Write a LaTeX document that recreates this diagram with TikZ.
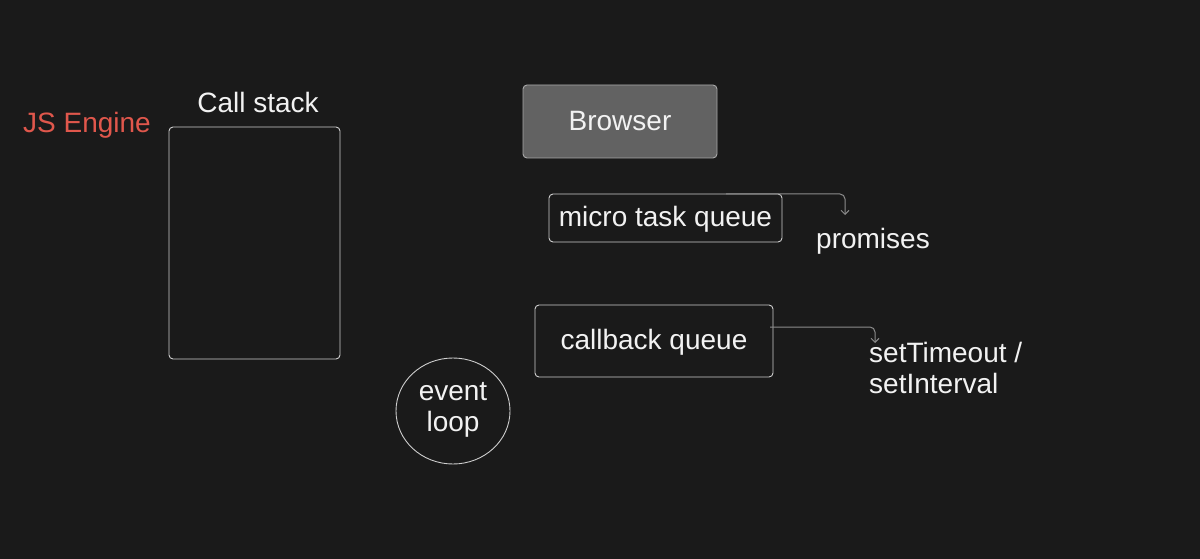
\documentclass[tikz,border=0pt]{standalone}
\usepackage{fontspec}
\setmainfont{Liberation Sans}
\usetikzlibrary{arrows.meta,shapes.geometric}
\definecolor{bg}{HTML}{1A1A1A}
\definecolor{stroke}{HTML}{CFCFCF}
\definecolor{txt}{HTML}{F2F2F2}
\definecolor{jsred}{HTML}{E0574C}
\definecolor{brfill}{HTML}{626262}
\definecolor{brstroke}{HTML}{A8A8A8}
\definecolor{arrgrey}{HTML}{8C8C8C}
\tikzset{
  box/.style={draw=stroke, line width=0.9pt, rounded corners=4pt, inner sep=0pt},
  lbl/.style={text=txt, font=\fontsize{28}{31}\selectfont, inner sep=0pt},
  conn/.style={draw=arrgrey, line width=1pt, rounded corners=5pt, -{Straight Barb[length=4pt,width=8pt]}},
}
\begin{document}
\begin{tikzpicture}[x=1pt,y=-1pt]
\fill[bg] (0,0) rectangle (1200,559);
\useasboundingbox (0,0) rectangle (1200,559);

\node[lbl, text=jsred] (js) at (87,125.5) {JS Engine};
\node[lbl] (cs) at (258,102.5) {Call stack};
\node[box, minimum width=171pt, minimum height=232pt] (stack) at (254.5,243) {};

\node[box, draw=brstroke, fill=brfill, minimum width=194pt, minimum height=73pt] (browser) at (620,121.5) {};
\node[lbl] at (browser.center) {Browser};

\node[box, minimum width=233pt, minimum height=48pt] (micro) at (665.5,218) {};
\node[lbl] at ([yshift=-1.5pt]micro.center) {micro task queue};
\node[lbl] (prom) at (873,241.5) {promises};

\node[box, minimum width=238pt, minimum height=72pt] (cb) at (654,341) {};
\node[lbl] at ([yshift=-1.5pt]cb.center) {callback queue};
\node[lbl, align=left, anchor=north west] (st) at (869,342.5) {setTimeout /\\setInterval};

\node[draw=stroke, line width=0.9pt, ellipse, minimum width=114pt, minimum height=106pt, inner sep=0pt] (ev) at (453,411) {};
\node[lbl, align=center] at ([yshift=1.5pt]ev.center) {event\\loop};

\coordinate (m1) at (726,194);
\coordinate (m2) at (845,215);
\coordinate (c1) at (770,327);
\coordinate (c2) at (875,343);
\draw[conn] (m1) -| (m2);
\draw[conn] (c1) -| (c2);
\end{tikzpicture}
\end{document}
